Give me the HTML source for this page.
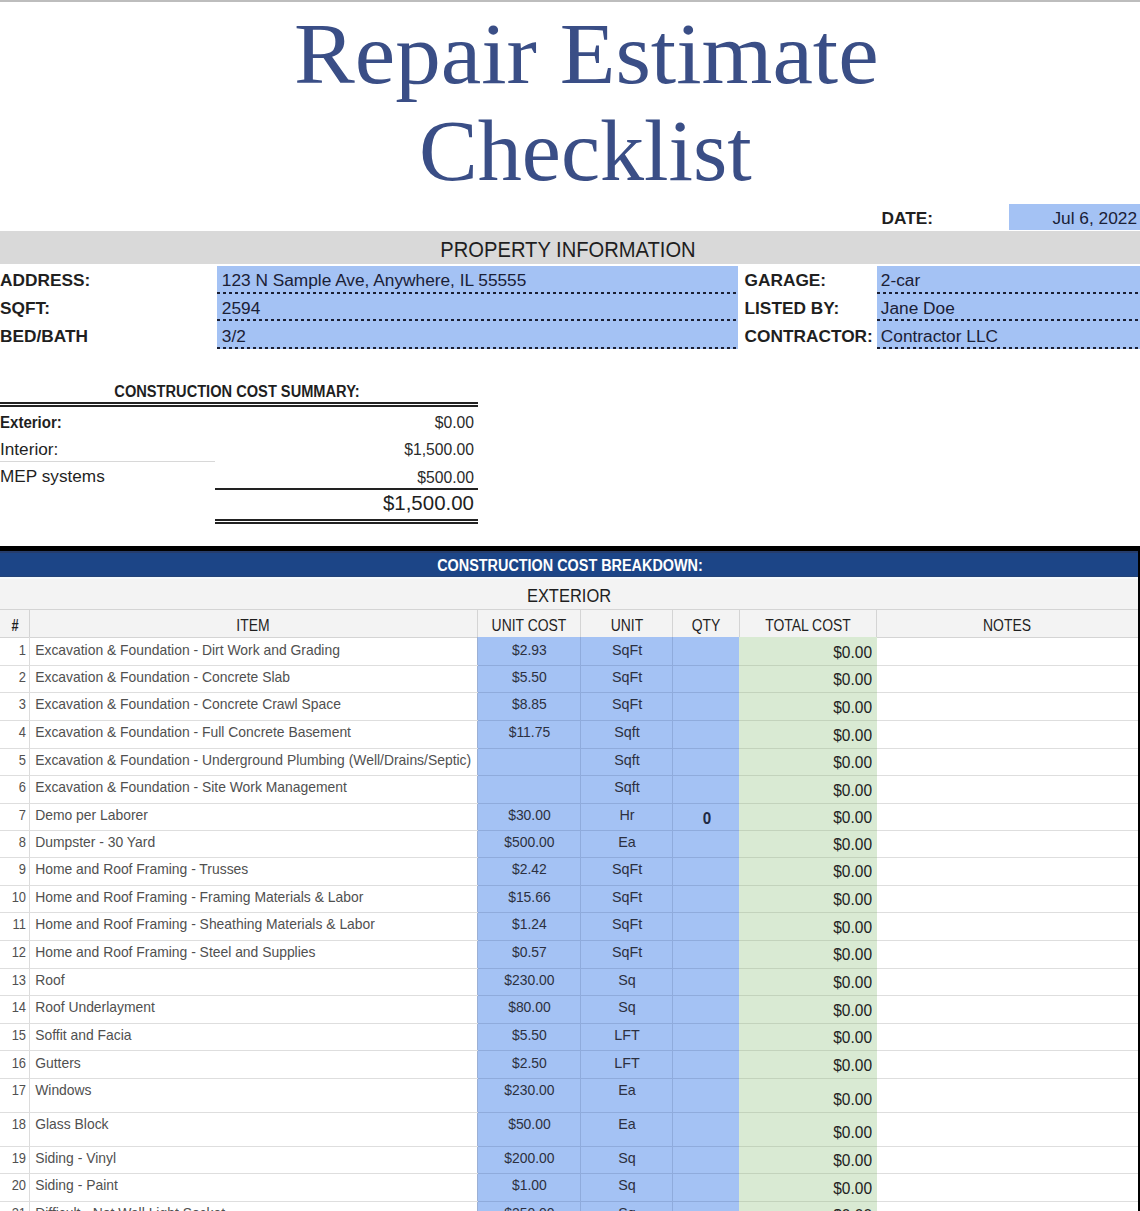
<!DOCTYPE html>
<html><head><meta charset="utf-8"><style>
html,body{margin:0;padding:0;background:#fff;overflow:hidden;width:1140px;height:1211px;}
.pg{position:relative;width:1140px;height:1211px;overflow:hidden;background:#fff;}
.pg>div{position:absolute;}
.t{white-space:nowrap;}
</style></head><body><div class="pg">
<div style="left:0px;top:0px;width:1140px;height:2px;background:#bdbdbd;"></div>
<div class="t" style="left:293.50px;top:10.61px;font:400 86.8px/86.8px 'Liberation Serif', serif;color:#3a4e86;transform-origin:0 0;transform:scaleX(1.05);">Repair Estimate</div>
<div class="t" style="left:418.60px;top:107.52px;font:400 86.2px/86.2px 'Liberation Serif', serif;color:#3a4e86;transform-origin:0 0;transform:scaleX(1.022);">Checklist</div>
<div class="t" style="left:881.50px;top:210.35px;font:700 17.3px/17.3px 'Liberation Sans', sans-serif;color:#1f1f1f;transform-origin:0 0;">DATE:</div>
<div style="left:1009px;top:204px;width:131px;height:26px;background:#a4c2f4;"></div>
<div class="t" style="left:137.00px;width:1000px;text-align:right;top:210.35px;font:400 17.3px/17.3px 'Liberation Sans', sans-serif;color:#1a2036;transform-origin:100% 0;">Jul 6, 2022</div>
<div style="left:0px;top:231px;width:1140px;height:33px;background:#d9d9d9;"></div>
<div class="t" style="left:-431.70px;width:2000px;text-align:center;top:238.30px;font:400 22.8px/22.8px 'Liberation Sans', sans-serif;color:#1f1f1f;transform-origin:50% 0;transform:scaleX(0.884);">PROPERTY INFORMATION</div>
<div style="left:217px;top:266px;width:521px;height:83px;background:#a4c2f4;"></div>
<div style="left:877px;top:266px;width:263px;height:83px;background:#a4c2f4;"></div>
<div style="left:217px;top:292px;width:521px;height:2px;background:repeating-linear-gradient(90deg,#1a1f33 0 3px,transparent 3px 6px);"></div>
<div style="left:877px;top:292px;width:263px;height:2px;background:repeating-linear-gradient(90deg,#1a1f33 0 3px,transparent 3px 6px);"></div>
<div style="left:217px;top:319px;width:521px;height:2px;background:repeating-linear-gradient(90deg,#1a1f33 0 3px,transparent 3px 6px);"></div>
<div style="left:877px;top:319px;width:263px;height:2px;background:repeating-linear-gradient(90deg,#1a1f33 0 3px,transparent 3px 6px);"></div>
<div style="left:217px;top:347px;width:521px;height:2px;background:repeating-linear-gradient(90deg,#1a1f33 0 3px,transparent 3px 6px);"></div>
<div style="left:877px;top:347px;width:263px;height:2px;background:repeating-linear-gradient(90deg,#1a1f33 0 3px,transparent 3px 6px);"></div>
<div class="t" style="left:0.00px;top:272.35px;font:700 17.3px/17.3px 'Liberation Sans', sans-serif;color:#1f1f1f;transform-origin:0 0;">ADDRESS:</div>
<div class="t" style="left:221.80px;top:272.35px;font:400 17.3px/17.3px 'Liberation Sans', sans-serif;color:#1a2036;transform-origin:0 0;">123 N Sample Ave, Anywhere, IL 55555</div>
<div class="t" style="left:744.50px;top:272.35px;font:700 17.3px/17.3px 'Liberation Sans', sans-serif;color:#1f1f1f;transform-origin:0 0;">GARAGE:</div>
<div class="t" style="left:880.80px;top:272.35px;font:400 17.3px/17.3px 'Liberation Sans', sans-serif;color:#1a2036;transform-origin:0 0;">2-car</div>
<div class="t" style="left:0.00px;top:299.95px;font:700 17.3px/17.3px 'Liberation Sans', sans-serif;color:#1f1f1f;transform-origin:0 0;">SQFT:</div>
<div class="t" style="left:221.80px;top:299.95px;font:400 17.3px/17.3px 'Liberation Sans', sans-serif;color:#1a2036;transform-origin:0 0;">2594</div>
<div class="t" style="left:744.50px;top:299.95px;font:700 17.3px/17.3px 'Liberation Sans', sans-serif;color:#1f1f1f;transform-origin:0 0;">LISTED BY:</div>
<div class="t" style="left:880.80px;top:299.95px;font:400 17.3px/17.3px 'Liberation Sans', sans-serif;color:#1a2036;transform-origin:0 0;">Jane Doe</div>
<div class="t" style="left:0.00px;top:327.55px;font:700 17.3px/17.3px 'Liberation Sans', sans-serif;color:#1f1f1f;transform-origin:0 0;">BED/BATH</div>
<div class="t" style="left:221.80px;top:327.55px;font:400 17.3px/17.3px 'Liberation Sans', sans-serif;color:#1a2036;transform-origin:0 0;">3/2</div>
<div class="t" style="left:744.50px;top:327.55px;font:700 17.3px/17.3px 'Liberation Sans', sans-serif;color:#1f1f1f;transform-origin:0 0;">CONTRACTOR:</div>
<div class="t" style="left:880.80px;top:327.55px;font:400 17.3px/17.3px 'Liberation Sans', sans-serif;color:#1a2036;transform-origin:0 0;">Contractor LLC</div>
<div class="t" style="left:-763.50px;width:2000px;text-align:center;top:383.85px;font:700 16px/16px 'Liberation Sans', sans-serif;color:#1f1f1f;transform-origin:50% 0;transform:scaleX(0.914);">CONSTRUCTION COST SUMMARY:</div>
<div style="left:0px;top:402px;width:478px;height:2px;background:#222;"></div>
<div style="left:0px;top:405px;width:478px;height:2px;background:#222;"></div>
<div class="t" style="left:0.00px;top:414.65px;font:700 16px/16px 'Liberation Sans', sans-serif;color:#1f1f1f;transform-origin:0 0;transform:scaleX(0.94);">Exterior:</div>
<div class="t" style="left:-526.20px;width:1000px;text-align:right;top:414.85px;font:400 16px/16px 'Liberation Sans', sans-serif;color:#2a2a2a;transform-origin:100% 0;transform:scaleX(0.98);">$0.00</div>
<div class="t" style="left:0.00px;top:441.44px;font:400 17.2px/17.2px 'Liberation Sans', sans-serif;color:#1f1f1f;transform-origin:0 0;">Interior:</div>
<div style="left:0px;top:461px;width:215px;height:1px;background:#d8d8d8;"></div>
<div class="t" style="left:-526.20px;width:1000px;text-align:right;top:442.05px;font:400 16px/16px 'Liberation Sans', sans-serif;color:#2a2a2a;transform-origin:100% 0;transform:scaleX(0.98);">$1,500.00</div>
<div class="t" style="left:0.00px;top:468.44px;font:400 17.2px/17.2px 'Liberation Sans', sans-serif;color:#1f1f1f;transform-origin:0 0;">MEP systems</div>
<div class="t" style="left:-526.20px;width:1000px;text-align:right;top:469.85px;font:400 16px/16px 'Liberation Sans', sans-serif;color:#2a2a2a;transform-origin:100% 0;transform:scaleX(0.98);">$500.00</div>
<div style="left:215px;top:488px;width:263px;height:2px;background:#222;"></div>
<div class="t" style="left:-526.40px;width:1000px;text-align:right;top:493.69px;font:400 19.5px/19.5px 'Liberation Sans', sans-serif;color:#1f1f1f;transform-origin:100% 0;transform:scaleX(1.05);">$1,500.00</div>
<div style="left:215px;top:519px;width:263px;height:2px;background:#222;"></div>
<div style="left:215px;top:522px;width:263px;height:2px;background:#222;"></div>
<div style="left:0px;top:546px;width:1140px;height:5px;background:#000;"></div>
<div style="left:0px;top:551px;width:1140px;height:2px;background:#263d6c;"></div>
<div style="left:0px;top:553px;width:1140px;height:23px;background:#1c4587;"></div>
<div style="left:0px;top:576px;width:1140px;height:1px;background:#234378;"></div>
<div style="left:0px;top:577px;width:1140px;height:2px;background:#f4f9fc;"></div>
<div style="left:0px;top:579px;width:1140px;height:59px;background:#f3f3f3;"></div>
<div style="left:1138px;top:546px;width:2px;height:665px;background:#000;"></div>
<div class="t" style="left:-430.50px;width:2000px;text-align:center;top:558.25px;font:700 16px/16px 'Liberation Sans', sans-serif;color:#ffffff;transform-origin:50% 0;transform:scaleX(0.9);">CONSTRUCTION COST BREAKDOWN:</div>
<div class="t" style="left:-431.00px;width:2000px;text-align:center;top:586.56px;font:400 18px/18px 'Liberation Sans', sans-serif;color:#1f1f1f;transform-origin:50% 0;transform:scaleX(0.915);">EXTERIOR</div>
<div style="left:0px;top:609px;width:1138px;height:1px;background:#d4d4d4;"></div>
<div style="left:29px;top:610px;width:1px;height:28px;background:#d4d4d4;"></div>
<div style="left:477px;top:610px;width:1px;height:28px;background:#d4d4d4;"></div>
<div style="left:580px;top:610px;width:1px;height:28px;background:#d4d4d4;"></div>
<div style="left:672px;top:610px;width:1px;height:28px;background:#d4d4d4;"></div>
<div style="left:739px;top:610px;width:1px;height:28px;background:#d4d4d4;"></div>
<div style="left:876px;top:610px;width:1px;height:28px;background:#d4d4d4;"></div>
<div class="t" style="left:-985.10px;width:2000px;text-align:center;top:617.65px;font:700 16px/16px 'Liberation Sans', sans-serif;color:#1f1f1f;transform-origin:50% 0;transform:scaleX(0.8);">#</div>
<div class="t" style="left:-746.60px;width:2000px;text-align:center;top:617.65px;font:400 16px/16px 'Liberation Sans', sans-serif;color:#1f1f1f;transform-origin:50% 0;transform:scaleX(0.87);">ITEM</div>
<div class="t" style="left:-470.80px;width:2000px;text-align:center;top:617.65px;font:400 16px/16px 'Liberation Sans', sans-serif;color:#1f1f1f;transform-origin:50% 0;transform:scaleX(0.87);">UNIT COST</div>
<div class="t" style="left:-373.35px;width:2000px;text-align:center;top:617.65px;font:400 16px/16px 'Liberation Sans', sans-serif;color:#1f1f1f;transform-origin:50% 0;transform:scaleX(0.87);">UNIT</div>
<div class="t" style="left:-294.15px;width:2000px;text-align:center;top:617.65px;font:400 16px/16px 'Liberation Sans', sans-serif;color:#1f1f1f;transform-origin:50% 0;transform:scaleX(0.87);">QTY</div>
<div class="t" style="left:-192.05px;width:2000px;text-align:center;top:617.65px;font:400 16px/16px 'Liberation Sans', sans-serif;color:#1f1f1f;transform-origin:50% 0;transform:scaleX(0.87);">TOTAL COST</div>
<div class="t" style="left:7.35px;width:2000px;text-align:center;top:617.65px;font:400 16px/16px 'Liberation Sans', sans-serif;color:#1f1f1f;transform-origin:50% 0;transform:scaleX(0.87);">NOTES</div>
<div style="left:0px;top:637px;width:1138px;height:1px;background:#d4d4d4;"></div>
<div style="left:478px;top:637px;width:261px;height:574px;background:#a4c2f4;"></div>
<div style="left:739px;top:637px;width:138px;height:574px;background:#d9ead3;"></div>
<div style="left:29px;top:637px;width:1px;height:574px;background:#dcdcdc;"></div>
<div style="left:477px;top:637px;width:1px;height:574px;background:#9cb0d4;"></div>
<div style="left:580px;top:637px;width:1px;height:574px;background:#8fabdc;"></div>
<div style="left:672px;top:637px;width:1px;height:574px;background:#8fabdc;"></div>
<div style="left:0px;top:665px;width:478px;height:1px;background:#dedede;"></div>
<div style="left:478px;top:665px;width:261px;height:1px;background:#8fabdc;"></div>
<div style="left:739px;top:665px;width:138px;height:1px;background:#c3d3bc;"></div>
<div style="left:877px;top:665px;width:261px;height:1px;background:#dedede;"></div>
<div class="t" style="left:-973.70px;width:1000px;text-align:right;top:643.73px;font:400 13.9px/13.9px 'Liberation Sans', sans-serif;color:#505050;transform-origin:100% 0;transform:scaleX(0.93);">1</div>
<div class="t" style="left:35.20px;top:643.73px;font:400 13.9px/13.9px 'Liberation Sans', sans-serif;color:#505050;transform-origin:0 0;">Excavation &amp; Foundation - Dirt Work and Grading</div>
<div class="t" style="left:-470.60px;width:2000px;text-align:center;top:643.73px;font:400 13.9px/13.9px 'Liberation Sans', sans-serif;color:#2c3040;transform-origin:50% 0;">$2.93</div>
<div class="t" style="left:-372.80px;width:2000px;text-align:center;top:643.73px;font:400 13.9px/13.9px 'Liberation Sans', sans-serif;color:#2c3040;transform-origin:50% 0;transform:scaleX(1.03);">SqFt</div>
<div class="t" style="left:-128.40px;width:1000px;text-align:right;top:643.77px;font:400 17.4px/17.4px 'Liberation Sans', sans-serif;color:#222;transform-origin:100% 0;transform:scaleX(0.89);">$0.00</div>
<div style="left:0px;top:692px;width:478px;height:1px;background:#dedede;"></div>
<div style="left:478px;top:692px;width:261px;height:1px;background:#8fabdc;"></div>
<div style="left:739px;top:692px;width:138px;height:1px;background:#c3d3bc;"></div>
<div style="left:877px;top:692px;width:261px;height:1px;background:#dedede;"></div>
<div class="t" style="left:-973.70px;width:1000px;text-align:right;top:670.93px;font:400 13.9px/13.9px 'Liberation Sans', sans-serif;color:#505050;transform-origin:100% 0;transform:scaleX(0.93);">2</div>
<div class="t" style="left:35.20px;top:670.93px;font:400 13.9px/13.9px 'Liberation Sans', sans-serif;color:#505050;transform-origin:0 0;">Excavation &amp; Foundation - Concrete Slab</div>
<div class="t" style="left:-470.60px;width:2000px;text-align:center;top:670.93px;font:400 13.9px/13.9px 'Liberation Sans', sans-serif;color:#2c3040;transform-origin:50% 0;">$5.50</div>
<div class="t" style="left:-372.80px;width:2000px;text-align:center;top:670.93px;font:400 13.9px/13.9px 'Liberation Sans', sans-serif;color:#2c3040;transform-origin:50% 0;transform:scaleX(1.03);">SqFt</div>
<div class="t" style="left:-128.40px;width:1000px;text-align:right;top:671.07px;font:400 17.4px/17.4px 'Liberation Sans', sans-serif;color:#222;transform-origin:100% 0;transform:scaleX(0.89);">$0.00</div>
<div style="left:0px;top:720px;width:478px;height:1px;background:#dedede;"></div>
<div style="left:478px;top:720px;width:261px;height:1px;background:#8fabdc;"></div>
<div style="left:739px;top:720px;width:138px;height:1px;background:#c3d3bc;"></div>
<div style="left:877px;top:720px;width:261px;height:1px;background:#dedede;"></div>
<div class="t" style="left:-973.70px;width:1000px;text-align:right;top:698.23px;font:400 13.9px/13.9px 'Liberation Sans', sans-serif;color:#505050;transform-origin:100% 0;transform:scaleX(0.93);">3</div>
<div class="t" style="left:35.20px;top:698.23px;font:400 13.9px/13.9px 'Liberation Sans', sans-serif;color:#505050;transform-origin:0 0;">Excavation &amp; Foundation - Concrete Crawl Space</div>
<div class="t" style="left:-470.60px;width:2000px;text-align:center;top:698.23px;font:400 13.9px/13.9px 'Liberation Sans', sans-serif;color:#2c3040;transform-origin:50% 0;">$8.85</div>
<div class="t" style="left:-372.80px;width:2000px;text-align:center;top:698.23px;font:400 13.9px/13.9px 'Liberation Sans', sans-serif;color:#2c3040;transform-origin:50% 0;transform:scaleX(1.03);">SqFt</div>
<div class="t" style="left:-128.40px;width:1000px;text-align:right;top:698.77px;font:400 17.4px/17.4px 'Liberation Sans', sans-serif;color:#222;transform-origin:100% 0;transform:scaleX(0.89);">$0.00</div>
<div style="left:0px;top:748px;width:478px;height:1px;background:#dedede;"></div>
<div style="left:478px;top:748px;width:261px;height:1px;background:#8fabdc;"></div>
<div style="left:739px;top:748px;width:138px;height:1px;background:#c3d3bc;"></div>
<div style="left:877px;top:748px;width:261px;height:1px;background:#dedede;"></div>
<div class="t" style="left:-973.70px;width:1000px;text-align:right;top:725.93px;font:400 13.9px/13.9px 'Liberation Sans', sans-serif;color:#505050;transform-origin:100% 0;transform:scaleX(0.93);">4</div>
<div class="t" style="left:35.20px;top:725.93px;font:400 13.9px/13.9px 'Liberation Sans', sans-serif;color:#505050;transform-origin:0 0;">Excavation &amp; Foundation - Full Concrete Basement</div>
<div class="t" style="left:-470.60px;width:2000px;text-align:center;top:725.93px;font:400 13.9px/13.9px 'Liberation Sans', sans-serif;color:#2c3040;transform-origin:50% 0;">$11.75</div>
<div class="t" style="left:-372.80px;width:2000px;text-align:center;top:725.93px;font:400 13.9px/13.9px 'Liberation Sans', sans-serif;color:#2c3040;transform-origin:50% 0;transform:scaleX(1.03);">Sqft</div>
<div class="t" style="left:-128.40px;width:1000px;text-align:right;top:726.57px;font:400 17.4px/17.4px 'Liberation Sans', sans-serif;color:#222;transform-origin:100% 0;transform:scaleX(0.89);">$0.00</div>
<div style="left:0px;top:775px;width:478px;height:1px;background:#dedede;"></div>
<div style="left:478px;top:775px;width:261px;height:1px;background:#8fabdc;"></div>
<div style="left:739px;top:775px;width:138px;height:1px;background:#c3d3bc;"></div>
<div style="left:877px;top:775px;width:261px;height:1px;background:#dedede;"></div>
<div class="t" style="left:-973.70px;width:1000px;text-align:right;top:753.73px;font:400 13.9px/13.9px 'Liberation Sans', sans-serif;color:#505050;transform-origin:100% 0;transform:scaleX(0.93);">5</div>
<div class="t" style="left:35.20px;top:753.73px;font:400 13.9px/13.9px 'Liberation Sans', sans-serif;color:#505050;transform-origin:0 0;">Excavation &amp; Foundation - Underground Plumbing (Well/Drains/Septic)</div>
<div class="t" style="left:-372.80px;width:2000px;text-align:center;top:753.73px;font:400 13.9px/13.9px 'Liberation Sans', sans-serif;color:#2c3040;transform-origin:50% 0;transform:scaleX(1.03);">Sqft</div>
<div class="t" style="left:-128.40px;width:1000px;text-align:right;top:754.07px;font:400 17.4px/17.4px 'Liberation Sans', sans-serif;color:#222;transform-origin:100% 0;transform:scaleX(0.89);">$0.00</div>
<div style="left:0px;top:803px;width:478px;height:1px;background:#dedede;"></div>
<div style="left:478px;top:803px;width:261px;height:1px;background:#8fabdc;"></div>
<div style="left:739px;top:803px;width:138px;height:1px;background:#c3d3bc;"></div>
<div style="left:877px;top:803px;width:261px;height:1px;background:#dedede;"></div>
<div class="t" style="left:-973.70px;width:1000px;text-align:right;top:781.23px;font:400 13.9px/13.9px 'Liberation Sans', sans-serif;color:#505050;transform-origin:100% 0;transform:scaleX(0.93);">6</div>
<div class="t" style="left:35.20px;top:781.23px;font:400 13.9px/13.9px 'Liberation Sans', sans-serif;color:#505050;transform-origin:0 0;">Excavation &amp; Foundation - Site Work Management</div>
<div class="t" style="left:-372.80px;width:2000px;text-align:center;top:781.23px;font:400 13.9px/13.9px 'Liberation Sans', sans-serif;color:#2c3040;transform-origin:50% 0;transform:scaleX(1.03);">Sqft</div>
<div class="t" style="left:-128.40px;width:1000px;text-align:right;top:781.77px;font:400 17.4px/17.4px 'Liberation Sans', sans-serif;color:#222;transform-origin:100% 0;transform:scaleX(0.89);">$0.00</div>
<div style="left:0px;top:830px;width:478px;height:1px;background:#dedede;"></div>
<div style="left:478px;top:830px;width:261px;height:1px;background:#8fabdc;"></div>
<div style="left:739px;top:830px;width:138px;height:1px;background:#c3d3bc;"></div>
<div style="left:877px;top:830px;width:261px;height:1px;background:#dedede;"></div>
<div class="t" style="left:-973.70px;width:1000px;text-align:right;top:808.93px;font:400 13.9px/13.9px 'Liberation Sans', sans-serif;color:#505050;transform-origin:100% 0;transform:scaleX(0.93);">7</div>
<div class="t" style="left:35.20px;top:808.93px;font:400 13.9px/13.9px 'Liberation Sans', sans-serif;color:#505050;transform-origin:0 0;">Demo per Laborer</div>
<div class="t" style="left:-470.60px;width:2000px;text-align:center;top:808.93px;font:400 13.9px/13.9px 'Liberation Sans', sans-serif;color:#2c3040;transform-origin:50% 0;">$30.00</div>
<div class="t" style="left:-372.80px;width:2000px;text-align:center;top:808.93px;font:400 13.9px/13.9px 'Liberation Sans', sans-serif;color:#2c3040;transform-origin:50% 0;transform:scaleX(1.03);">Hr</div>
<div class="t" style="left:-293.30px;width:2000px;text-align:center;top:810.43px;font:700 16.5px/16.5px 'Liberation Sans', sans-serif;color:#1f2a44;transform-origin:50% 0;transform:scaleX(0.92);">0</div>
<div class="t" style="left:-128.40px;width:1000px;text-align:right;top:808.97px;font:400 17.4px/17.4px 'Liberation Sans', sans-serif;color:#222;transform-origin:100% 0;transform:scaleX(0.89);">$0.00</div>
<div style="left:0px;top:857px;width:478px;height:1px;background:#dedede;"></div>
<div style="left:478px;top:857px;width:261px;height:1px;background:#8fabdc;"></div>
<div style="left:739px;top:857px;width:138px;height:1px;background:#c3d3bc;"></div>
<div style="left:877px;top:857px;width:261px;height:1px;background:#dedede;"></div>
<div class="t" style="left:-973.70px;width:1000px;text-align:right;top:836.13px;font:400 13.9px/13.9px 'Liberation Sans', sans-serif;color:#505050;transform-origin:100% 0;transform:scaleX(0.93);">8</div>
<div class="t" style="left:35.20px;top:836.13px;font:400 13.9px/13.9px 'Liberation Sans', sans-serif;color:#505050;transform-origin:0 0;">Dumpster - 30 Yard</div>
<div class="t" style="left:-470.60px;width:2000px;text-align:center;top:836.13px;font:400 13.9px/13.9px 'Liberation Sans', sans-serif;color:#2c3040;transform-origin:50% 0;">$500.00</div>
<div class="t" style="left:-372.80px;width:2000px;text-align:center;top:836.13px;font:400 13.9px/13.9px 'Liberation Sans', sans-serif;color:#2c3040;transform-origin:50% 0;transform:scaleX(1.03);">Ea</div>
<div class="t" style="left:-128.40px;width:1000px;text-align:right;top:836.27px;font:400 17.4px/17.4px 'Liberation Sans', sans-serif;color:#222;transform-origin:100% 0;transform:scaleX(0.89);">$0.00</div>
<div style="left:0px;top:885px;width:478px;height:1px;background:#dedede;"></div>
<div style="left:478px;top:885px;width:261px;height:1px;background:#8fabdc;"></div>
<div style="left:739px;top:885px;width:138px;height:1px;background:#c3d3bc;"></div>
<div style="left:877px;top:885px;width:261px;height:1px;background:#dedede;"></div>
<div class="t" style="left:-973.70px;width:1000px;text-align:right;top:863.43px;font:400 13.9px/13.9px 'Liberation Sans', sans-serif;color:#505050;transform-origin:100% 0;transform:scaleX(0.93);">9</div>
<div class="t" style="left:35.20px;top:863.43px;font:400 13.9px/13.9px 'Liberation Sans', sans-serif;color:#505050;transform-origin:0 0;">Home and Roof Framing - Trusses</div>
<div class="t" style="left:-470.60px;width:2000px;text-align:center;top:863.43px;font:400 13.9px/13.9px 'Liberation Sans', sans-serif;color:#2c3040;transform-origin:50% 0;">$2.42</div>
<div class="t" style="left:-372.80px;width:2000px;text-align:center;top:863.43px;font:400 13.9px/13.9px 'Liberation Sans', sans-serif;color:#2c3040;transform-origin:50% 0;transform:scaleX(1.03);">SqFt</div>
<div class="t" style="left:-128.40px;width:1000px;text-align:right;top:863.47px;font:400 17.4px/17.4px 'Liberation Sans', sans-serif;color:#222;transform-origin:100% 0;transform:scaleX(0.89);">$0.00</div>
<div style="left:0px;top:912px;width:478px;height:1px;background:#dedede;"></div>
<div style="left:478px;top:912px;width:261px;height:1px;background:#8fabdc;"></div>
<div style="left:739px;top:912px;width:138px;height:1px;background:#c3d3bc;"></div>
<div style="left:877px;top:912px;width:261px;height:1px;background:#dedede;"></div>
<div class="t" style="left:-973.70px;width:1000px;text-align:right;top:890.63px;font:400 13.9px/13.9px 'Liberation Sans', sans-serif;color:#505050;transform-origin:100% 0;transform:scaleX(0.93);">10</div>
<div class="t" style="left:35.20px;top:890.63px;font:400 13.9px/13.9px 'Liberation Sans', sans-serif;color:#505050;transform-origin:0 0;">Home and Roof Framing - Framing Materials &amp; Labor</div>
<div class="t" style="left:-470.60px;width:2000px;text-align:center;top:890.63px;font:400 13.9px/13.9px 'Liberation Sans', sans-serif;color:#2c3040;transform-origin:50% 0;">$15.66</div>
<div class="t" style="left:-372.80px;width:2000px;text-align:center;top:890.63px;font:400 13.9px/13.9px 'Liberation Sans', sans-serif;color:#2c3040;transform-origin:50% 0;transform:scaleX(1.03);">SqFt</div>
<div class="t" style="left:-128.40px;width:1000px;text-align:right;top:890.77px;font:400 17.4px/17.4px 'Liberation Sans', sans-serif;color:#222;transform-origin:100% 0;transform:scaleX(0.89);">$0.00</div>
<div style="left:0px;top:940px;width:478px;height:1px;background:#dedede;"></div>
<div style="left:478px;top:940px;width:261px;height:1px;background:#8fabdc;"></div>
<div style="left:739px;top:940px;width:138px;height:1px;background:#c3d3bc;"></div>
<div style="left:877px;top:940px;width:261px;height:1px;background:#dedede;"></div>
<div class="t" style="left:-973.70px;width:1000px;text-align:right;top:917.93px;font:400 13.9px/13.9px 'Liberation Sans', sans-serif;color:#505050;transform-origin:100% 0;transform:scaleX(0.93);">11</div>
<div class="t" style="left:35.20px;top:917.93px;font:400 13.9px/13.9px 'Liberation Sans', sans-serif;color:#505050;transform-origin:0 0;">Home and Roof Framing - Sheathing Materials &amp; Labor</div>
<div class="t" style="left:-470.60px;width:2000px;text-align:center;top:917.93px;font:400 13.9px/13.9px 'Liberation Sans', sans-serif;color:#2c3040;transform-origin:50% 0;">$1.24</div>
<div class="t" style="left:-372.80px;width:2000px;text-align:center;top:917.93px;font:400 13.9px/13.9px 'Liberation Sans', sans-serif;color:#2c3040;transform-origin:50% 0;transform:scaleX(1.03);">SqFt</div>
<div class="t" style="left:-128.40px;width:1000px;text-align:right;top:918.97px;font:400 17.4px/17.4px 'Liberation Sans', sans-serif;color:#222;transform-origin:100% 0;transform:scaleX(0.89);">$0.00</div>
<div style="left:0px;top:968px;width:478px;height:1px;background:#dedede;"></div>
<div style="left:478px;top:968px;width:261px;height:1px;background:#8fabdc;"></div>
<div style="left:739px;top:968px;width:138px;height:1px;background:#c3d3bc;"></div>
<div style="left:877px;top:968px;width:261px;height:1px;background:#dedede;"></div>
<div class="t" style="left:-973.70px;width:1000px;text-align:right;top:946.13px;font:400 13.9px/13.9px 'Liberation Sans', sans-serif;color:#505050;transform-origin:100% 0;transform:scaleX(0.93);">12</div>
<div class="t" style="left:35.20px;top:946.13px;font:400 13.9px/13.9px 'Liberation Sans', sans-serif;color:#505050;transform-origin:0 0;">Home and Roof Framing - Steel and Supplies</div>
<div class="t" style="left:-470.60px;width:2000px;text-align:center;top:946.13px;font:400 13.9px/13.9px 'Liberation Sans', sans-serif;color:#2c3040;transform-origin:50% 0;">$0.57</div>
<div class="t" style="left:-372.80px;width:2000px;text-align:center;top:946.13px;font:400 13.9px/13.9px 'Liberation Sans', sans-serif;color:#2c3040;transform-origin:50% 0;transform:scaleX(1.03);">SqFt</div>
<div class="t" style="left:-128.40px;width:1000px;text-align:right;top:946.47px;font:400 17.4px/17.4px 'Liberation Sans', sans-serif;color:#222;transform-origin:100% 0;transform:scaleX(0.89);">$0.00</div>
<div style="left:0px;top:995px;width:478px;height:1px;background:#dedede;"></div>
<div style="left:478px;top:995px;width:261px;height:1px;background:#8fabdc;"></div>
<div style="left:739px;top:995px;width:138px;height:1px;background:#c3d3bc;"></div>
<div style="left:877px;top:995px;width:261px;height:1px;background:#dedede;"></div>
<div class="t" style="left:-973.70px;width:1000px;text-align:right;top:973.63px;font:400 13.9px/13.9px 'Liberation Sans', sans-serif;color:#505050;transform-origin:100% 0;transform:scaleX(0.93);">13</div>
<div class="t" style="left:35.20px;top:973.63px;font:400 13.9px/13.9px 'Liberation Sans', sans-serif;color:#505050;transform-origin:0 0;">Roof</div>
<div class="t" style="left:-470.60px;width:2000px;text-align:center;top:973.63px;font:400 13.9px/13.9px 'Liberation Sans', sans-serif;color:#2c3040;transform-origin:50% 0;">$230.00</div>
<div class="t" style="left:-372.80px;width:2000px;text-align:center;top:973.63px;font:400 13.9px/13.9px 'Liberation Sans', sans-serif;color:#2c3040;transform-origin:50% 0;transform:scaleX(1.03);">Sq</div>
<div class="t" style="left:-128.40px;width:1000px;text-align:right;top:974.17px;font:400 17.4px/17.4px 'Liberation Sans', sans-serif;color:#222;transform-origin:100% 0;transform:scaleX(0.89);">$0.00</div>
<div style="left:0px;top:1023px;width:478px;height:1px;background:#dedede;"></div>
<div style="left:478px;top:1023px;width:261px;height:1px;background:#8fabdc;"></div>
<div style="left:739px;top:1023px;width:138px;height:1px;background:#c3d3bc;"></div>
<div style="left:877px;top:1023px;width:261px;height:1px;background:#dedede;"></div>
<div class="t" style="left:-973.70px;width:1000px;text-align:right;top:1001.33px;font:400 13.9px/13.9px 'Liberation Sans', sans-serif;color:#505050;transform-origin:100% 0;transform:scaleX(0.93);">14</div>
<div class="t" style="left:35.20px;top:1001.33px;font:400 13.9px/13.9px 'Liberation Sans', sans-serif;color:#505050;transform-origin:0 0;">Roof Underlayment</div>
<div class="t" style="left:-470.60px;width:2000px;text-align:center;top:1001.33px;font:400 13.9px/13.9px 'Liberation Sans', sans-serif;color:#2c3040;transform-origin:50% 0;">$80.00</div>
<div class="t" style="left:-372.80px;width:2000px;text-align:center;top:1001.33px;font:400 13.9px/13.9px 'Liberation Sans', sans-serif;color:#2c3040;transform-origin:50% 0;transform:scaleX(1.03);">Sq</div>
<div class="t" style="left:-128.40px;width:1000px;text-align:right;top:1001.67px;font:400 17.4px/17.4px 'Liberation Sans', sans-serif;color:#222;transform-origin:100% 0;transform:scaleX(0.89);">$0.00</div>
<div style="left:0px;top:1050px;width:478px;height:1px;background:#dedede;"></div>
<div style="left:478px;top:1050px;width:261px;height:1px;background:#8fabdc;"></div>
<div style="left:739px;top:1050px;width:138px;height:1px;background:#c3d3bc;"></div>
<div style="left:877px;top:1050px;width:261px;height:1px;background:#dedede;"></div>
<div class="t" style="left:-973.70px;width:1000px;text-align:right;top:1028.83px;font:400 13.9px/13.9px 'Liberation Sans', sans-serif;color:#505050;transform-origin:100% 0;transform:scaleX(0.93);">15</div>
<div class="t" style="left:35.20px;top:1028.83px;font:400 13.9px/13.9px 'Liberation Sans', sans-serif;color:#505050;transform-origin:0 0;">Soffit and Facia</div>
<div class="t" style="left:-470.60px;width:2000px;text-align:center;top:1028.83px;font:400 13.9px/13.9px 'Liberation Sans', sans-serif;color:#2c3040;transform-origin:50% 0;">$5.50</div>
<div class="t" style="left:-372.80px;width:2000px;text-align:center;top:1028.83px;font:400 13.9px/13.9px 'Liberation Sans', sans-serif;color:#2c3040;transform-origin:50% 0;transform:scaleX(1.03);">LFT</div>
<div class="t" style="left:-128.40px;width:1000px;text-align:right;top:1029.37px;font:400 17.4px/17.4px 'Liberation Sans', sans-serif;color:#222;transform-origin:100% 0;transform:scaleX(0.89);">$0.00</div>
<div style="left:0px;top:1078px;width:478px;height:1px;background:#dedede;"></div>
<div style="left:478px;top:1078px;width:261px;height:1px;background:#8fabdc;"></div>
<div style="left:739px;top:1078px;width:138px;height:1px;background:#c3d3bc;"></div>
<div style="left:877px;top:1078px;width:261px;height:1px;background:#dedede;"></div>
<div class="t" style="left:-973.70px;width:1000px;text-align:right;top:1056.53px;font:400 13.9px/13.9px 'Liberation Sans', sans-serif;color:#505050;transform-origin:100% 0;transform:scaleX(0.93);">16</div>
<div class="t" style="left:35.20px;top:1056.53px;font:400 13.9px/13.9px 'Liberation Sans', sans-serif;color:#505050;transform-origin:0 0;">Gutters</div>
<div class="t" style="left:-470.60px;width:2000px;text-align:center;top:1056.53px;font:400 13.9px/13.9px 'Liberation Sans', sans-serif;color:#2c3040;transform-origin:50% 0;">$2.50</div>
<div class="t" style="left:-372.80px;width:2000px;text-align:center;top:1056.53px;font:400 13.9px/13.9px 'Liberation Sans', sans-serif;color:#2c3040;transform-origin:50% 0;transform:scaleX(1.03);">LFT</div>
<div class="t" style="left:-128.40px;width:1000px;text-align:right;top:1056.97px;font:400 17.4px/17.4px 'Liberation Sans', sans-serif;color:#222;transform-origin:100% 0;transform:scaleX(0.89);">$0.00</div>
<div style="left:0px;top:1112px;width:478px;height:1px;background:#dedede;"></div>
<div style="left:478px;top:1112px;width:261px;height:1px;background:#8fabdc;"></div>
<div style="left:739px;top:1112px;width:138px;height:1px;background:#c3d3bc;"></div>
<div style="left:877px;top:1112px;width:261px;height:1px;background:#dedede;"></div>
<div class="t" style="left:-973.70px;width:1000px;text-align:right;top:1084.13px;font:400 13.9px/13.9px 'Liberation Sans', sans-serif;color:#505050;transform-origin:100% 0;transform:scaleX(0.93);">17</div>
<div class="t" style="left:35.20px;top:1084.13px;font:400 13.9px/13.9px 'Liberation Sans', sans-serif;color:#505050;transform-origin:0 0;">Windows</div>
<div class="t" style="left:-470.60px;width:2000px;text-align:center;top:1084.13px;font:400 13.9px/13.9px 'Liberation Sans', sans-serif;color:#2c3040;transform-origin:50% 0;">$230.00</div>
<div class="t" style="left:-372.80px;width:2000px;text-align:center;top:1084.13px;font:400 13.9px/13.9px 'Liberation Sans', sans-serif;color:#2c3040;transform-origin:50% 0;transform:scaleX(1.03);">Ea</div>
<div class="t" style="left:-128.40px;width:1000px;text-align:right;top:1090.57px;font:400 17.4px/17.4px 'Liberation Sans', sans-serif;color:#222;transform-origin:100% 0;transform:scaleX(0.89);">$0.00</div>
<div style="left:0px;top:1146px;width:478px;height:1px;background:#dedede;"></div>
<div style="left:478px;top:1146px;width:261px;height:1px;background:#8fabdc;"></div>
<div style="left:739px;top:1146px;width:138px;height:1px;background:#c3d3bc;"></div>
<div style="left:877px;top:1146px;width:261px;height:1px;background:#dedede;"></div>
<div class="t" style="left:-973.70px;width:1000px;text-align:right;top:1117.73px;font:400 13.9px/13.9px 'Liberation Sans', sans-serif;color:#505050;transform-origin:100% 0;transform:scaleX(0.93);">18</div>
<div class="t" style="left:35.20px;top:1117.73px;font:400 13.9px/13.9px 'Liberation Sans', sans-serif;color:#505050;transform-origin:0 0;">Glass Block</div>
<div class="t" style="left:-470.60px;width:2000px;text-align:center;top:1117.73px;font:400 13.9px/13.9px 'Liberation Sans', sans-serif;color:#2c3040;transform-origin:50% 0;">$50.00</div>
<div class="t" style="left:-372.80px;width:2000px;text-align:center;top:1117.73px;font:400 13.9px/13.9px 'Liberation Sans', sans-serif;color:#2c3040;transform-origin:50% 0;transform:scaleX(1.03);">Ea</div>
<div class="t" style="left:-128.40px;width:1000px;text-align:right;top:1124.37px;font:400 17.4px/17.4px 'Liberation Sans', sans-serif;color:#222;transform-origin:100% 0;transform:scaleX(0.89);">$0.00</div>
<div style="left:0px;top:1173px;width:478px;height:1px;background:#dedede;"></div>
<div style="left:478px;top:1173px;width:261px;height:1px;background:#8fabdc;"></div>
<div style="left:739px;top:1173px;width:138px;height:1px;background:#c3d3bc;"></div>
<div style="left:877px;top:1173px;width:261px;height:1px;background:#dedede;"></div>
<div class="t" style="left:-973.70px;width:1000px;text-align:right;top:1151.53px;font:400 13.9px/13.9px 'Liberation Sans', sans-serif;color:#505050;transform-origin:100% 0;transform:scaleX(0.93);">19</div>
<div class="t" style="left:35.20px;top:1151.53px;font:400 13.9px/13.9px 'Liberation Sans', sans-serif;color:#505050;transform-origin:0 0;">Siding - Vinyl</div>
<div class="t" style="left:-470.60px;width:2000px;text-align:center;top:1151.53px;font:400 13.9px/13.9px 'Liberation Sans', sans-serif;color:#2c3040;transform-origin:50% 0;">$200.00</div>
<div class="t" style="left:-372.80px;width:2000px;text-align:center;top:1151.53px;font:400 13.9px/13.9px 'Liberation Sans', sans-serif;color:#2c3040;transform-origin:50% 0;transform:scaleX(1.03);">Sq</div>
<div class="t" style="left:-128.40px;width:1000px;text-align:right;top:1152.07px;font:400 17.4px/17.4px 'Liberation Sans', sans-serif;color:#222;transform-origin:100% 0;transform:scaleX(0.89);">$0.00</div>
<div style="left:0px;top:1201px;width:478px;height:1px;background:#dedede;"></div>
<div style="left:478px;top:1201px;width:261px;height:1px;background:#8fabdc;"></div>
<div style="left:739px;top:1201px;width:138px;height:1px;background:#c3d3bc;"></div>
<div style="left:877px;top:1201px;width:261px;height:1px;background:#dedede;"></div>
<div class="t" style="left:-973.70px;width:1000px;text-align:right;top:1179.23px;font:400 13.9px/13.9px 'Liberation Sans', sans-serif;color:#505050;transform-origin:100% 0;transform:scaleX(0.93);">20</div>
<div class="t" style="left:35.20px;top:1179.23px;font:400 13.9px/13.9px 'Liberation Sans', sans-serif;color:#505050;transform-origin:0 0;">Siding - Paint</div>
<div class="t" style="left:-470.60px;width:2000px;text-align:center;top:1179.23px;font:400 13.9px/13.9px 'Liberation Sans', sans-serif;color:#2c3040;transform-origin:50% 0;">$1.00</div>
<div class="t" style="left:-372.80px;width:2000px;text-align:center;top:1179.23px;font:400 13.9px/13.9px 'Liberation Sans', sans-serif;color:#2c3040;transform-origin:50% 0;transform:scaleX(1.03);">Sq</div>
<div class="t" style="left:-128.40px;width:1000px;text-align:right;top:1179.97px;font:400 17.4px/17.4px 'Liberation Sans', sans-serif;color:#222;transform-origin:100% 0;transform:scaleX(0.89);">$0.00</div>
<div style="left:0px;top:1228px;width:478px;height:1px;background:#dedede;"></div>
<div style="left:478px;top:1228px;width:261px;height:1px;background:#8fabdc;"></div>
<div style="left:739px;top:1228px;width:138px;height:1px;background:#c3d3bc;"></div>
<div style="left:877px;top:1228px;width:261px;height:1px;background:#dedede;"></div>
<div class="t" style="left:-973.70px;width:1000px;text-align:right;top:1207.13px;font:400 13.9px/13.9px 'Liberation Sans', sans-serif;color:#505050;transform-origin:100% 0;transform:scaleX(0.93);">21</div>
<div class="t" style="left:35.20px;top:1207.13px;font:400 13.9px/13.9px 'Liberation Sans', sans-serif;color:#505050;transform-origin:0 0;">Difficult - Not Wall Light Socket</div>
<div class="t" style="left:-470.60px;width:2000px;text-align:center;top:1207.13px;font:400 13.9px/13.9px 'Liberation Sans', sans-serif;color:#2c3040;transform-origin:50% 0;">$250.00</div>
<div class="t" style="left:-372.80px;width:2000px;text-align:center;top:1207.13px;font:400 13.9px/13.9px 'Liberation Sans', sans-serif;color:#2c3040;transform-origin:50% 0;transform:scaleX(1.03);">Sq</div>
<div class="t" style="left:-128.40px;width:1000px;text-align:right;top:1207.37px;font:400 17.4px/17.4px 'Liberation Sans', sans-serif;color:#222;transform-origin:100% 0;transform:scaleX(0.89);">$0.00</div>
</div></body></html>
